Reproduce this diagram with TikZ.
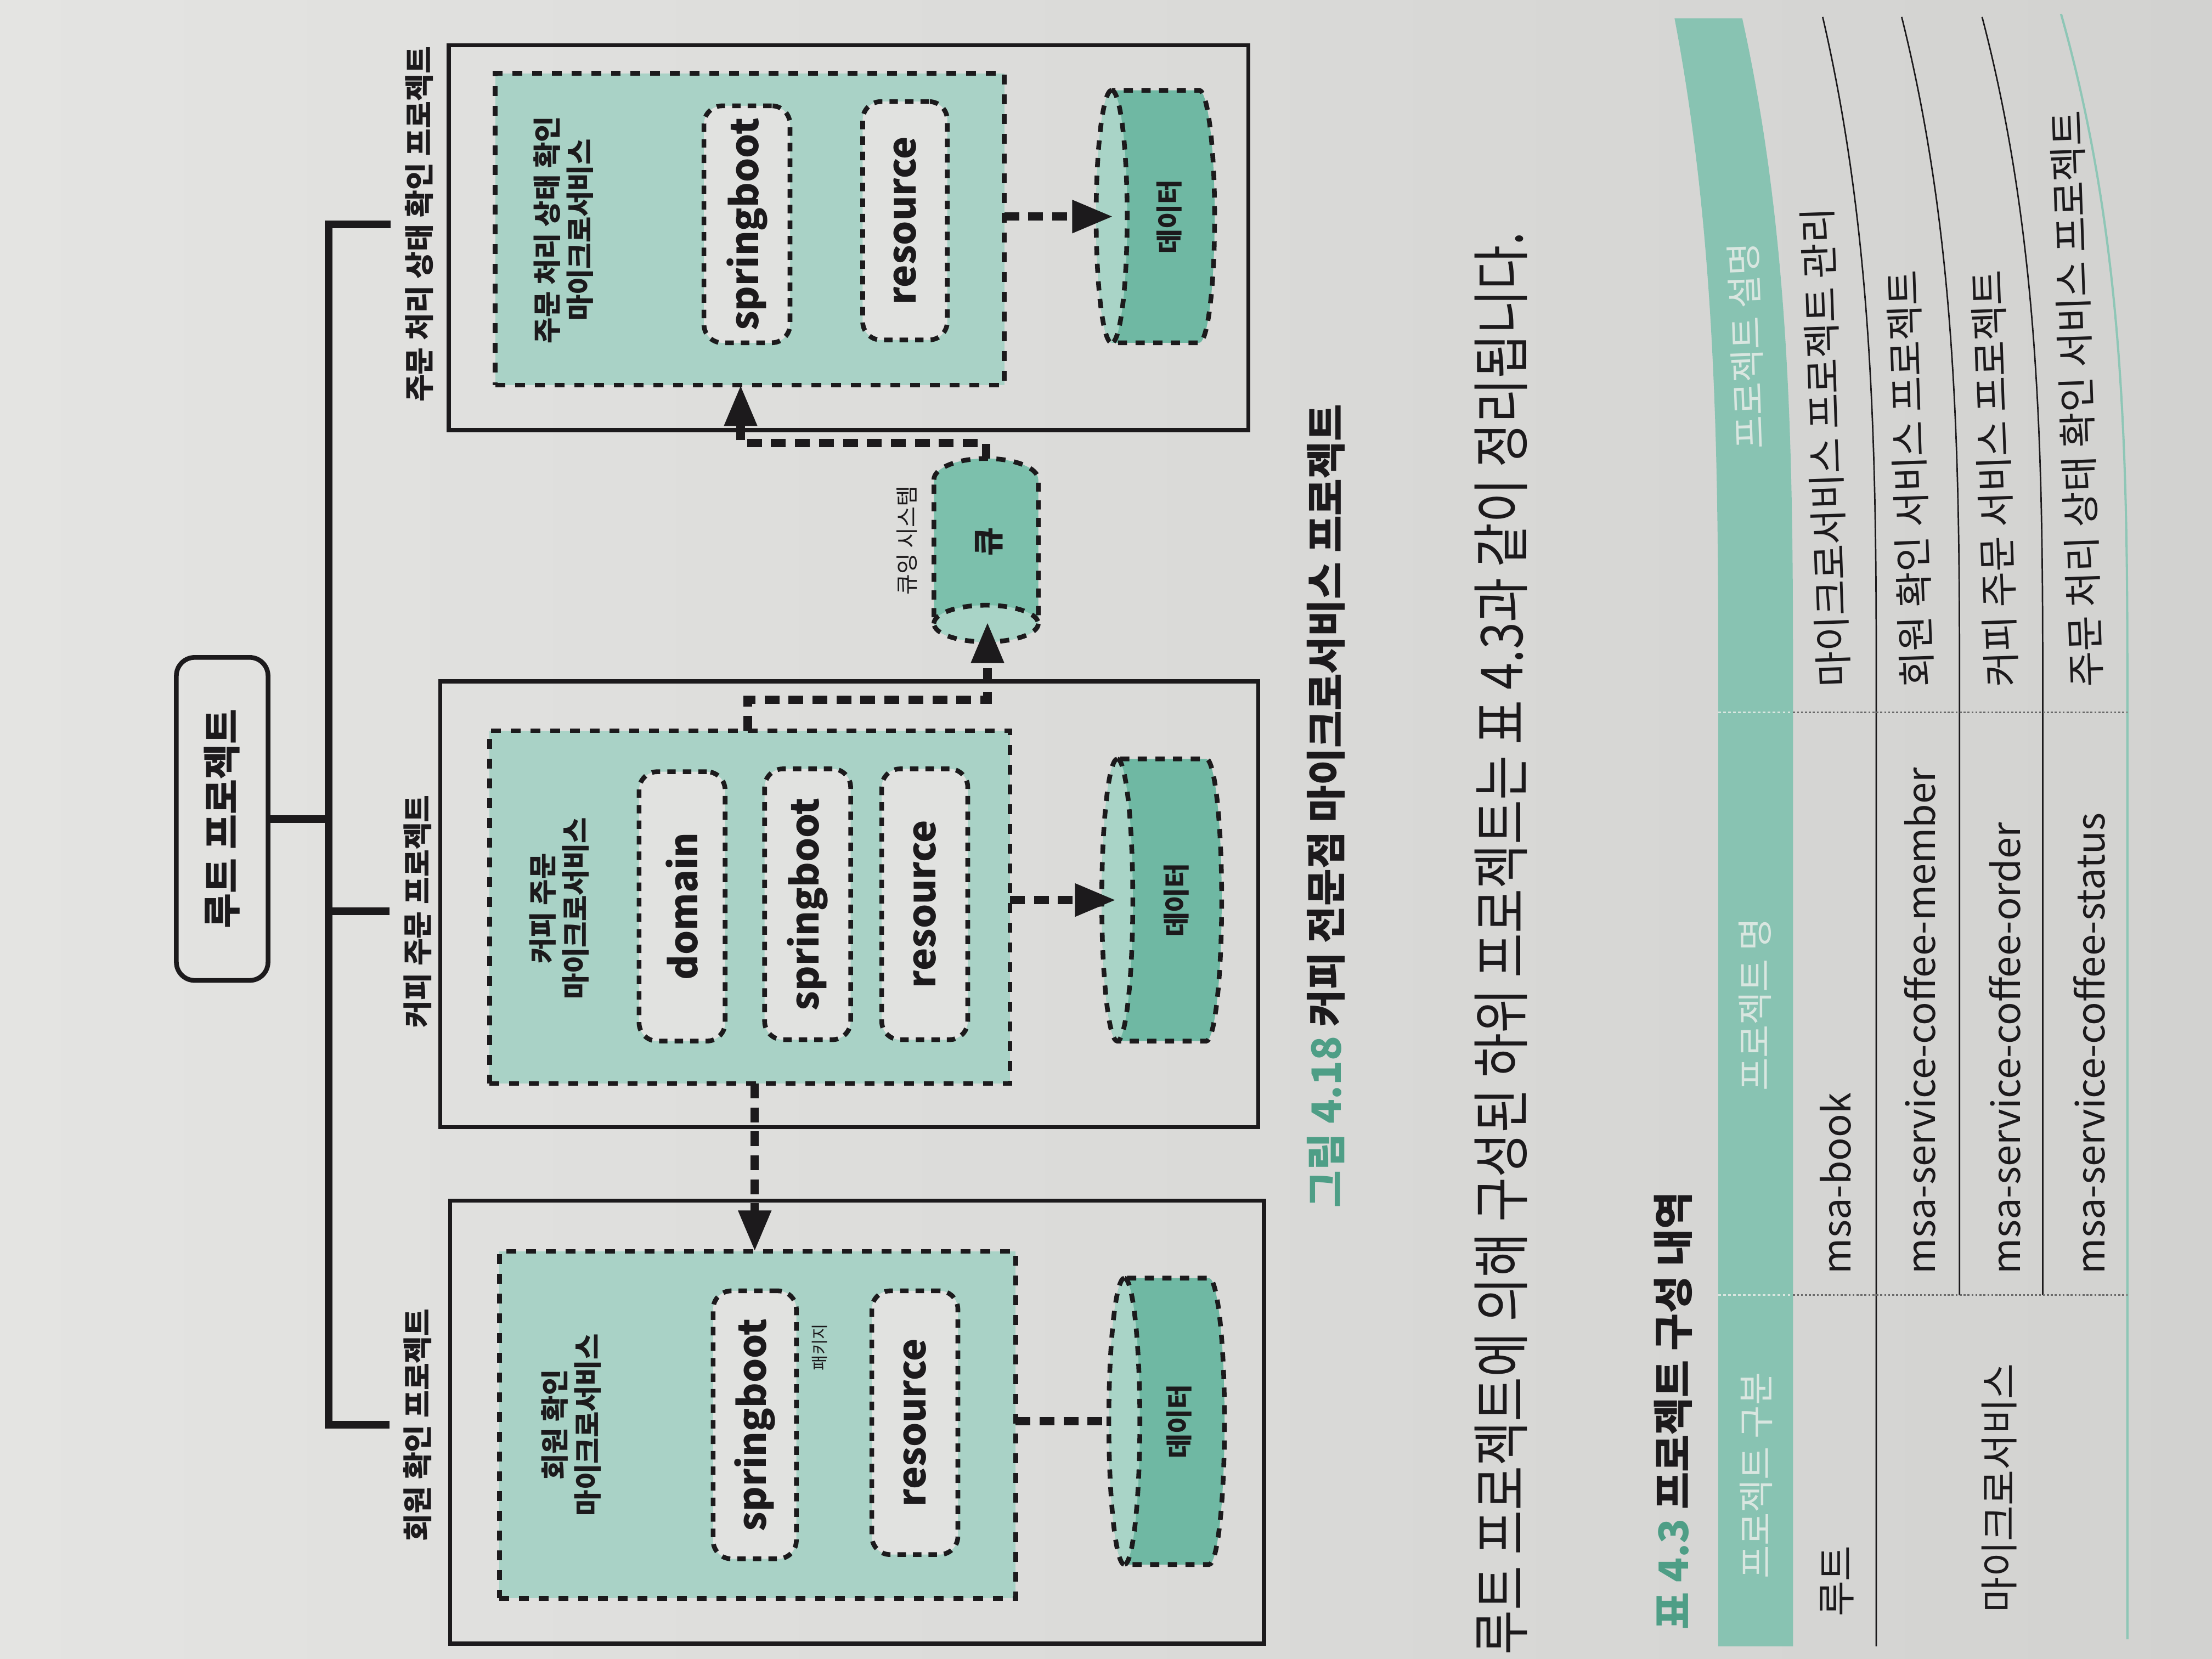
\documentclass[tikz,border=0pt]{standalone}
\usepackage{fontspec}
\usepackage{graphicx}
\setmainfont{Noto Sans CJK KR}
\usetikzlibrary{arrows.meta}
\definecolor{paperL}{HTML}{E4E4E2}
\definecolor{paperR}{HTML}{D2D2D0}
\definecolor{ink}{HTML}{1C1A1C}
\definecolor{msfill}{HTML}{A9D2C6}
\definecolor{innerfill}{HTML}{E1E2E0}
\definecolor{cylbody}{HTML}{6FB8A3}
\definecolor{cylface}{HTML}{A9D4C7}
\definecolor{queuebody}{HTML}{7CC0AC}
\definecolor{bandteal}{HTML}{88C3B2}
\definecolor{tealtext}{HTML}{4E9E86}
\definecolor{headtext}{HTML}{D9E6E0}
\definecolor{tealline}{HTML}{8EC6B6}
\definecolor{sepgray}{HTML}{6A6A6A}
\newcommand{\myfont}[2]{\fontsize{#1pt}{#2pt}\selectfont}
\newcommand{\datacyl}[4]{%
  \pgfmathsetmacro{\cylb}{(#4-#3)/2*0.02}%
  \fill[cylbody] ({#1+11},#3) arc[start angle=90,end angle=270,x radius=0.22cm,y radius=\cylb cm] -- ({#2-11},#4) arc[start angle=-90,end angle=90,x radius=0.22cm,y radius=\cylb cm] -- cycle;
  \fill[cylface] ({#1+11},{(#3+#4)/2}) ellipse [x radius=0.22cm, y radius=\cylb cm];
  \draw[cyldash] ({#1+11},#3) arc[start angle=90,end angle=270,x radius=0.22cm,y radius=\cylb cm] -- ({#2-11},#4) arc[start angle=-90,end angle=90,x radius=0.22cm,y radius=\cylb cm] -- cycle;
  \draw[cyldash] ({#1+11},#3) arc[start angle=90,end angle=-90,x radius=0.22cm,y radius=\cylb cm];
}
\begin{document}
\begin{tikzpicture}[x=0.02cm, y=-0.02cm,
  every node/.style={inner sep=0pt, outer sep=0pt, text=ink},
  rtext/.style={rotate=90},
  rtextc/.style={rotate=92},
  rootbox/.style={draw=ink, line width=1.9pt, rounded corners=0.26cm},
  projbox/.style={draw=ink, line width=1.7pt},
  msbox/.style={draw=ink, fill=msfill, line width=1.9pt, dash pattern=on 0.14cm off 0.14cm},
  innerbox/.style={draw=ink, fill=innerfill, line width=1.9pt, dash pattern=on 0.12cm off 0.1cm, rounded corners=0.26cm},
  trunk/.style={draw=ink, line width=3pt, line join=miter},
  flow/.style={draw=ink, line width=3.4pt, dash pattern=on 0.21cm off 0.13cm},
  flowarrow/.style={flow, -{Triangle[length=0.58cm, width=0.44cm]}},
  cyldash/.style={draw=ink, line width=1.9pt, dash pattern=on 0.13cm off 0.12cm},
  ghost/.style={inner sep=0pt, outer sep=0pt},
  tline/.style={draw=ink, line width=0.6pt},
  rootfont/.style={font=\myfont{15.4}{18}\bfseries},
  projfont/.style={font=\myfont{12}{14}\bfseries},
  msfont/.style={font=\myfont{11.4}{13.3}\bfseries, align=center},
  innerfont/.style={font=\myfont{15.4}{18}\bfseries},
  datafont/.style={font=\myfont{10.8}{13}\bfseries},
  cellfont/.style={font=\myfont{15.6}{18}},
  headfont/.style={font=\myfont{14.5}{17}, text=headtext}
]
\useasboundingbox (0,0) rectangle (1568,1176);
\shade[left color=paperL, right color=paperR] (0,0) rectangle (1568,1176);

% ---------- root and trunk ----------
\node[rootbox, minimum width=1.3cm, minimum height=4.58cm] (root) at (157.5,580.5) {};
\node[rtext, rootfont] (roottxt) at (root.center) {루트 프로젝트};

\node[rtext, projfont] (statlbl) at (297,159) {주문 처리 상태 확인 프로젝트};
\node[rtext, projfont] (ordlbl) at (296,646) {커피 주문 프로젝트};
\node[rtext, projfont] (memlbl) at (296,1010) {회원 확인 프로젝트};

\coordinate (trunkT) at (233,159);
\coordinate (trunkB) at (233,1010);
\draw[trunk] ([xshift=-0.2cm]statlbl.north) -- (trunkT) -- (trunkB) -- ([xshift=-0.2cm]memlbl.north);
\draw[trunk] (ordlbl.north -| trunkT) -- ([xshift=-0.2cm]ordlbl.north);
\draw[trunk] (root.east) -- (root.east -| trunkT);

% ---------- project boxes ----------
\node[projbox, minimum width=11.34cm, minimum height=5.46cm] (statproj) at (601.5,168.5) {};
\node[projbox, minimum width=11.6cm, minimum height=6.32cm] (ordproj) at (602,641) {};
\node[projbox, minimum width=11.54cm, minimum height=6.28cm] (memproj) at (607.5,1008) {};

% ---------- microservice boxes ----------
\node[msbox, minimum width=7.22cm, minimum height=4.42cm] (statms) at (531.5,162.5) {};
\node[msbox, minimum width=7.38cm, minimum height=5.0cm] (ordms) at (531.5,643) {};
\node[msbox, minimum width=7.32cm, minimum height=4.92cm] (memms) at (537,1010) {};

\node[rtext, msfont] (statmslbl) at (399.5,163) {주문 처리 상태 확인\\마이크로서비스};
\node[rtext, msfont] (ordmslbl) at (396.5,644) {커피 주문\\마이크로서비스};
\node[rtext, msfont] (memmslbl) at (405,1010) {회원 확인\\마이크로서비스};

% ---------- inner boxes ----------
\node[innerbox, minimum width=1.22cm, minimum height=3.36cm] (sspring) at (529.5,159) {};
\node[innerbox, minimum width=1.2cm, minimum height=3.38cm] (sres) at (641.5,156.5) {};
\node[innerbox, minimum width=1.22cm, minimum height=3.82cm] (odom) at (483.5,642.5) {};
\node[innerbox, minimum width=1.22cm, minimum height=3.84cm] (ospring) at (572.5,641) {};
\node[innerbox, minimum width=1.22cm, minimum height=3.84cm] (ores) at (655.5,641) {};
\node[innerbox, minimum width=1.18cm, minimum height=3.8cm] (mspring) at (535,1010) {};
\node[innerbox, minimum width=1.22cm, minimum height=3.74cm] (mres) at (648.5,1008.5) {};

\node[rtext, innerfont] (ssprt) at (sspring.center) {springboot};
\node[rtext, innerfont] (srest) at (sres.center) {resource};
\node[rtext, innerfont] (odomt) at (odom.center) {domain};
\node[rtext, innerfont] (ospringt) at (ospring.center) {springboot};
\node[rtext, innerfont] (orest) at (ores.center) {resource};
\node[rtext, innerfont] (mspringt) at (mspring.center) {springboot};
\node[rtext, innerfont] (mrest) at (mres.center) {resource};
\node[rtext, font=\myfont{6.8}{8}] (pkg) at (581,955) {패키지};

% ---------- data cylinders ----------
\datacyl{777}{861}{64}{243}
\datacyl{781}{866}{538}{738}
\datacyl{786}{868}{906}{1109}
\node[ghost, minimum width=1.68cm, minimum height=3.58cm] (dataS) at (819,153.5) {};
\node[ghost, minimum width=1.7cm, minimum height=4.0cm] (dataO) at (823.5,638) {};
\node[ghost, minimum width=1.64cm, minimum height=4.06cm] (dataM) at (827,1007.5) {};
\node[rtext, datafont] (dataSt) at (829,153.5) {데이터};
\node[rtext, datafont] (dataOt) at (834,638) {데이터};
\node[rtext, datafont] (dataMt) at (836,1007.5) {데이터};

% ---------- queue ----------
\fill[queuebody] (662,340) arc[start angle=180, end angle=0, x radius=0.74cm, y radius=0.3cm] -- (736,442) arc[start angle=0, end angle=-180, x radius=0.74cm, y radius=0.26cm] -- cycle;
\fill[cylface] (699,442) ellipse [x radius=0.74cm, y radius=0.26cm];
\draw[cyldash] (662,340) arc[start angle=180, end angle=0, x radius=0.74cm, y radius=0.3cm] -- (736,442) arc[start angle=0, end angle=-180, x radius=0.74cm, y radius=0.26cm] -- cycle;
\draw[cyldash] (662,442) arc[start angle=180, end angle=0, x radius=0.74cm, y radius=0.26cm];
\node[ghost, minimum width=1.48cm, minimum height=2.6cm] (queue) at (699,390) {};
\node[rtext, font=\myfont{12.5}{14}\bfseries] (queuet) at (701,384) {큐};
\node[rtext, font=\myfont{9.1}{11}] (queuelbl) at (643,383) {큐잉 시스템};

% ---------- connectors ----------
\coordinate (q2) at (530,496);
\coordinate (queuein) at (700,441);
\coordinate (q4) at (525,314);
\draw[flowarrow] (ordms.south -| mspring) -- (memms.north -| mspring);
\draw[flowarrow] (ordms.north -| q2) -- (q2) -| (queuein);
\draw[flowarrow] (queue.north) |- (q4) -- (statms.south -| q4);
\draw[flow] (memms.east |- dataM.west) -- (dataM.west);
\draw[flowarrow] (ordms.east |- dataO.west) -- ([xshift=0.2cm]dataO.west);
\draw[flowarrow] (statms.east |- dataS.west) -- ([xshift=0.24cm]dataS.west);

% ---------- caption and body text ----------
\node[rtext, anchor=west, font=\myfont{16.3}{19}\bfseries] (caption) at (940,856) {\textcolor{tealtext}{그림 4.18} 커피 전문점 마이크로서비스 프로젝트};
\node[rtext, anchor=west, font=\myfont{19.5}{22}] (body) at (1064,1173) {\scalebox{1}[1.2]{루트 프로젝트에 의해 구성된 하위 프로젝트는 표 4.3과 같이 정리됩니다.}};
\node[rtext, anchor=west, font=\myfont{16.4}{19}\bfseries] (ttitle) at (1186,1155) {\textcolor{tealtext}{표 4.3} 프로젝트 구성 내역};

% ---------- table ----------
\fill[bandteal] (1218,1167) -- (1218,500) .. controls (1218,338) and (1218,176) .. (1187,13) -- (1235,13) .. controls (1271,176) and (1271,338) .. (1271,500) -- (1271,1167) -- cycle;
\draw[headtext, line width=0.7pt, dash pattern=on 1pt off 1pt] (1218,918) -- (1271,918);
\draw[headtext, line width=0.7pt, dash pattern=on 1pt off 1pt] (1218,505) -- (1271,505);
\draw[tline] (1330,1167) -- (1330,500) .. controls (1330,338) and (1330,176) .. (1292,12);
\draw[tline] (1389,918) -- (1389,500) .. controls (1389,338) and (1389,176) .. (1348,12);
\draw[tline] (1448,918) -- (1448,500) .. controls (1448,338) and (1448,176) .. (1405,12);
\draw[tealline, line width=0.9pt] (1508,1162) -- (1508,500) .. controls (1508,338) and (1508,176) .. (1461,10);
\draw[sepgray, line width=0.6pt, dash pattern=on 0.8pt off 0.8pt] (1271,918) -- (1508,918);
\draw[sepgray, line width=0.6pt, dash pattern=on 0.8pt off 0.8pt] (1271,505) -- (1508,505);

\node[rtext, headfont] (h1) at (1245,1046) {프로젝트 구분};
\node[rtext, headfont] (h2) at (1244,712) {프로젝트 명};
\node[rtextc, headfont] (h3) at (1238,245) {프로젝트 설명};

\node[rtext, cellfont, anchor=west] (c11) at (1302,1146) {루트};
\node[rtext, cellfont, anchor=west] (c12) at (1301,903) {msa-book};
\node[rtextc, cellfont, anchor=west] (c13) at (1300,487) {마이크로서비스 프로젝트 관리};
\node[rtext, cellfont, anchor=west] (c21) at (1417,1143) {마이크로서비스};
\node[rtext, cellfont, anchor=west] (c22) at (1361,903) {msa-service-coffee-member};
\node[rtextc, cellfont, anchor=west] (c23) at (1359,487) {회원 확인 서비스 프로젝트};
\node[rtext, cellfont, anchor=west] (c32) at (1421,903) {msa-service-coffee-order};
\node[rtextc, cellfont, anchor=west] (c33) at (1419,487) {커피 주문 서비스 프로젝트};
\node[rtext, cellfont, anchor=west] (c42) at (1481,903) {msa-service-coffee-status};
\node[rtextc, cellfont, anchor=west] (c43) at (1479,487) {주문 처리 상태 확인 서비스 프로젝트};
\end{tikzpicture}
\end{document}
